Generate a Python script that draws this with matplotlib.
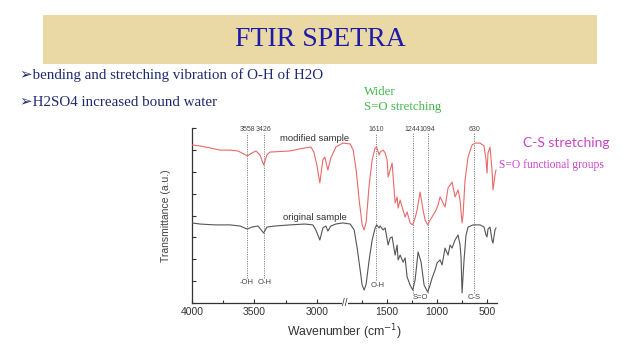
import numpy as np
import matplotlib
matplotlib.use("Agg")
import matplotlib.pyplot as plt
from matplotlib.patches import Rectangle

# ---------------- data ----------------
wn_modified = [4000, 3936, 3856, 3776, 3696, 3632, 3584, 3558, 3520, 3488, 3456, 3426, 3400,
               3376, 3216, 3096, 3048, 3024, 3000, 2976, 2952, 2936, 2912, 2888, 2848, 2792,
               1870, 1840, 1810, 1780, 1750, 1730, 1710, 1680, 1650, 1620, 1605, 1580, 1570,
               1540, 1520, 1500, 1490, 1470, 1450, 1430, 1420, 1400, 1390, 1370, 1350, 1320,
               1300, 1270, 1244, 1220, 1200, 1170, 1140, 1120, 1094, 1070, 1020, 990, 970,
               940, 920, 890, 850, 820, 790, 770, 750, 740, 720, 690, 650, 620, 570, 530,
               510, 500, 490, 470, 450, 440, 420, 410]
t_modified = [7.22, 7.18, 7.09, 6.99, 6.99, 6.95, 6.81, 6.72, 6.86, 6.95, 6.77, 6.31, 6.77,
              6.90, 6.95, 7.09, 7.13, 6.90, 6.31, 5.49, 6.54, 6.67, 6.08, 6.63, 7.13, 7.31,
              7.27, 6.99, 6.08, 4.71, 3.57, 3.34, 3.70, 5.39, 6.54, 7.09, 7.13, 6.77, 6.90,
              6.99, 6.86, 6.54, 5.76, 6.08, 6.40, 5.17, 4.57, 4.85, 4.34, 4.71, 4.39, 3.93,
              4.16, 3.66, 3.57, 3.89, 4.25, 5.07, 4.25, 3.79, 3.57, 3.79, 4.16, 4.48, 4.85,
              4.57, 4.39, 5.26, 5.53, 4.85, 5.17, 4.71, 3.66, 4.02, 5.62, 6.67, 7.22, 7.31,
              7.31, 7.18, 6.54, 5.94, 6.86, 7.13, 6.08, 5.17, 5.85, 6.08]

wn_original = [4000, 3936, 3816, 3696, 3616, 3558, 3520, 3472, 3426, 3400, 3336, 3216, 3096,
               3032, 3008, 2976, 2952, 2928, 2912, 2888, 2848, 2792, 1870, 1830, 1800, 1770,
               1750, 1730, 1710, 1680, 1650, 1620, 1605, 1580, 1570, 1540, 1520, 1490, 1470,
               1450, 1420, 1400, 1390, 1370, 1340, 1320, 1300, 1270, 1244, 1220, 1190, 1160,
               1130, 1094, 1070, 1050, 1020, 1000, 970, 950, 920, 890, 870, 850, 820, 790,
               770, 760, 750, 730, 710, 690, 640, 570, 530, 510, 500, 490, 470, 450, 440,
               420, 410]
t_original = [3.66, 3.61, 3.57, 3.57, 3.52, 3.38, 3.47, 3.52, 3.20, 3.47, 3.52, 3.57, 3.61,
              3.57, 3.34, 2.88, 3.43, 3.52, 3.29, 3.52, 3.61, 3.66, 3.61, 3.34, 2.51, 1.51,
              0.82, 0.59, 0.87, 1.97, 2.88, 3.43, 3.57, 3.43, 3.52, 3.34, 3.43, 2.65, 2.97,
              3.02, 2.19, 2.65, 1.97, 2.19, 1.87, 2.06, 1.19, 0.82, 0.59, 1.05, 2.33, 1.87,
              0.82, 0.50, 0.82, 1.14, 1.51, 1.83, 1.97, 1.74, 2.51, 2.19, 2.65, 2.51, 2.88,
              3.11, 2.65, 2.10, 0.46, 1.97, 3.11, 3.47, 3.57, 3.57, 3.47, 3.11, 3.02, 3.38,
              3.47, 2.88, 2.74, 3.34, 3.43]

peak_positions = [3558, 3426, 1610, 1244, 1094, 630]
peak_line_bottoms = [1.14, 1.14, 1.05, 0.46, 0.46, 0.46]
peak_top = 7.78

group_labels = ["-OH", "O-H", "O-H", "S=O", "C-S"]
group_label_x = [3560, 3416, 1600, 1170, 630]
group_label_y = [0.96, 0.96, 0.82, 0.23, 0.23]

x_major_ticks = [4000, 3500, 3000, 1500, 1000, 500]
x_minor_ticks = [3750, 3250, 1750, 1250, 750]
y_ticks = [0, 1, 2, 3, 4, 5, 6, 7, 8]

# ---------------- figure ----------------
W, H = 638, 359
fig = plt.figure(figsize=(W / 100, H / 100), dpi=100)
fig.patch.set_facecolor("white")

def fx(px):
    return px / W

def fy(py):
    return 1 - py / H

# title banner
banner = Rectangle((fx(43), fy(64)), fx(597) - fx(43), fy(15) - fy(64),
                   transform=fig.transFigure, facecolor="#ebd9a5", edgecolor="none", zorder=0)
fig.patches.append(banner)
fig.text(fx(320), fy(39), "FTIR SPETRA", family="Liberation Serif", fontsize=20,
         color="#1c1ca8", ha="center", va="center")

navy = "#1f2a6e"
fig.text(fx(20), fy(75), "\u27a2bending and stretching vibration of O-H of H2O",
         family=["Liberation Serif", "DejaVu Sans"], fontsize=10.8, color=navy,
         ha="left", va="center")
fig.text(fx(20), fy(103), "\u27a2H2SO4 increased bound water",
         family=["Liberation Serif", "DejaVu Sans"], fontsize=10.8, color=navy,
         ha="left", va="center")

green = "#41b64c"
fig.text(fx(364), fy(92), "Wider", family="Liberation Serif", fontsize=9.3,
         color=green, ha="left", va="center")
fig.text(fx(364), fy(107), "S=O stretching", family="Liberation Serif", fontsize=9.3,
         color=green, ha="left", va="center")

pink = "#c844c8"
fig.text(fx(523), fy(143), "C-S stretching", family="Lato", fontsize=10,
         color=pink, ha="left", va="center")
fig.text(fx(499), fy(165), "S=O functional groups", family="Liberation Serif",
         fontsize=8.3, color=pink, ha="left", va="center")

# ---------------- chart ----------------
ax = fig.add_axes([fx(192), fy(303), fx(497) - fx(192), fy(128) - fy(303)])

# broken wavenumber axis: 4000-2780 and 1920-400 with a tiny gap between
wn_pts = [400, 1920, 2780, 4000]
u_pts = [0.0, 152.0, 152.86, 305.36]

def fwd(w):
    return np.interp(w, wn_pts, u_pts)

def inv(u):
    return np.interp(u, u_pts, wn_pts)

ax.set_xscale("function", functions=(fwd, inv))
ax.set_xlim(4000, 400)
ax.set_ylim(0, 8)

ax.plot(wn_modified, t_modified, color="#e86a6a", lw=0.8, zorder=3)
ax.plot(wn_original, t_original, color="#555555", lw=0.8, zorder=3)

ax.vlines(peak_positions, peak_line_bottoms, peak_top, colors="#808080",
          linestyles=(0, (1.2, 1.2)), lw=0.7, zorder=2)
for p in peak_positions:
    ax.text(p, 7.92, str(p), fontsize=5, color="#444444", ha="center", va="center",
            family="Liberation Sans", clip_on=False)
for lab, lx, ly in zip(group_labels, group_label_x, group_label_y):
    ax.text(lx, ly, lab, fontsize=5.5, color="#444444", ha="center", va="center",
            family="Liberation Sans")

ax.text(3016, 7.54, "modified sample", fontsize=6.8, color="#333333", ha="center",
        va="center", family="Liberation Sans")
ax.text(3016, 3.93, "original sample", fontsize=6.8, color="#333333", ha="center",
        va="center", family="Liberation Sans")

for s in ["top", "right"]:
    ax.spines[s].set_visible(False)
for s in ["left", "bottom"]:
    ax.spines[s].set_color("#333333")
    ax.spines[s].set_linewidth(0.9)

ax.set_xticks(x_major_ticks)
ax.set_xticks(x_minor_ticks, minor=True)
ax.set_xticklabels([str(t) for t in x_major_ticks], family="Liberation Sans",
                   fontsize=7.5, color="#333333")
ax.set_yticks(y_ticks)
ax.set_yticklabels([])
ax.tick_params(axis="both", which="major", direction="in", length=3, width=0.8,
               color="#333333", pad=3)
ax.tick_params(axis="x", which="minor", direction="in", length=2, width=0.8,
               color="#333333")

# axis break mark
ax.text(2350, 0, "//", fontsize=7, color="#333333", ha="center", va="center",
        family="Liberation Sans", clip_on=False,
        bbox=dict(facecolor="white", edgecolor="none", pad=0.3))

ax.set_xlabel("Wavenumber (cm$^{-1}$)", family="Liberation Sans", fontsize=8.8,
              color="#333333", labelpad=4)
ax.set_ylabel("Transmittance (a.u.)", family="Liberation Sans", fontsize=7.5,
              color="#444444", labelpad=12)

fig.savefig("out.png", dpi=100)
